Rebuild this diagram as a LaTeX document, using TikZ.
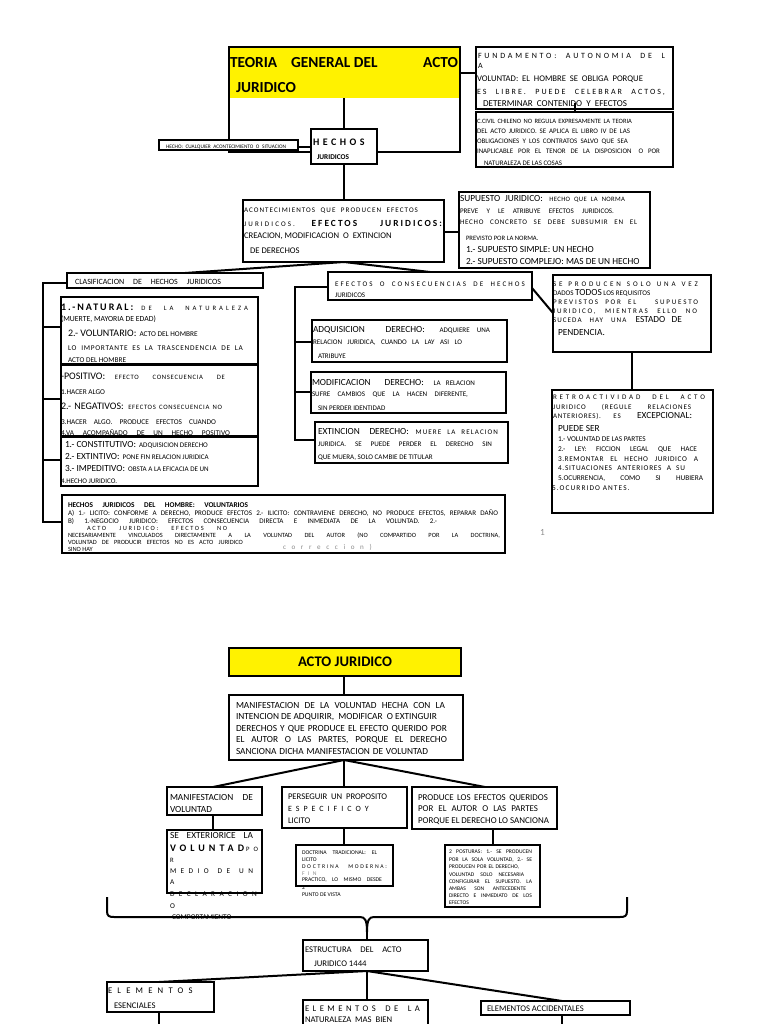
\documentclass[tikz,border=0pt]{standalone}
\usepackage{fontspec}
\setmainfont{Carlito}
\newdimen\pxu \pxu=0.75pt
\newcommand\J[2]{\makebox[#1\pxu][s]{#2}}
\newcommand\fz[1]{\fontsize{#1}{#1}\selectfont}
\newcommand\ls[1]{\addfontfeature{LetterSpace=#1}}
\newcommand\tl[3]{\node[tl] at (#1,#2) {#3};}
\newcommand\bx[5]{\node[box,minimum width={(#4-(#2))*0.75pt},minimum height={(#5-(#3))*0.75pt}] (#1) at (#2,#3) {};}
\begin{document}
\begin{tikzpicture}[x=0.75pt,y=-0.75pt,
  box/.style={draw=black,line width=0.8pt,fill=white,inner sep=0pt,outer sep=0pt,anchor=north west},
  conn/.style={draw=black,line width=1.5pt},
  tl/.style={anchor=base west,inner sep=0pt,outer sep=0pt,text=black},
  gtx/.style={tl,text=black!45}]
\useasboundingbox (0,0) rectangle (768,1024);
\fill[white] (0,0) rectangle (768,1024);

% ---------------- TOP HALF ----------------
\fill[yellow] (229,47) rectangle (460,98);
\node[box,fill=none,minimum width={231*0.75pt},minimum height={105*0.75pt}] (title) at (229,47) {};
\draw[conn] (344,98) -- (344,129);
\draw[conn] (460,73) -- (476,73);
\draw[conn] (298,147) -- (311,147);
\draw[conn] (344,164) -- (344,200);
\draw[conn] (444,232) -- (459,232);
\coordinate (j1) at (344,262);
\draw[conn] (j1) -- (185,273);
\draw[conn] (j1) -- (430,272);
% left bracket
\draw[conn] (67,283) -| (43,522) -- (62,522);
\draw[conn] (43,327) -- (61,327);
\draw[conn] (43,399) -- (61,399);
\draw[conn] (43,460) -- (61,460);
% middle bracket
\draw[conn] (328,287) -| (295,440) -- (315,440);
\draw[conn] (295,342) -- (312,342);
\draw[conn] (295,392) -- (311,392);
\draw[conn] (532,288) -- (553,313);
\draw[conn] (632,352) -- (632,390);

\bx{hechos}{311}{129}{377}{164}
\bx{hecho}{159}{140}{298}{150}
\bx{fund}{476}{47}{673}{109}
\bx{cc}{476}{112}{673}{167}
\draw[conn] (575,103) -- (575,112);
\bx{acont}{243}{200}{444}{262}
\bx{supuesto}{459}{192}{650}{268}
\bx{clasif}{67}{273}{263}{288}
\bx{efectos}{328}{272}{532}{300}
\bx{seprod}{553}{275}{711}{352}
\bx{natural}{61}{297}{258}{364}
\bx{positivo}{61}{365}{258}{436}
\bx{constit}{61}{437}{258}{486}
\bx{adq}{312}{320}{507}{362}
\bx{modif}{311}{372}{506}{413}
\bx{extin}{315}{422}{508}{463}
\bx{retro}{552}{390}{713}{513}
\bx{hombre}{62}{495}{505}{553}

% title texts
\tl{230}{68}{\fz{11.5}\bfseries\makebox[228\pxu][l]{TEORIA\hspace{14\pxu}GENERAL DEL\hfill ACTO}}
\tl{236}{93}{\fz{11.5}\bfseries JURIDICO}
\tl{313}{145}{\fz{7.5}\bfseries\ls{35}HECHOS}
\tl{317}{159}{\fz{5.5}\bfseries JURIDICOS}
\tl{166}{148.5}{\fz{4}\J{120}{HECHO: CUALQUIER ACONTECIMIENTO O SITUACION}}

% fundamento
\tl{478}{59}{\fz{6}\ls{35}\J{187}{FUNDAMENTO: AUTONOMIA DE L}}
\tl{478}{69}{\fz{6}A}
\tl{477}{82}{\fz{6.5}\J{166}{VOLUNTAD: EL HOMBRE SE OBLIGA PORQUE}}
\tl{477}{94}{\fz{6}\ls{25}\J{188}{ES LIBRE. PUEDE CELEBRAR ACTOS,}}
\tl{483}{107}{\fz{6.8}\J{144}{DETERMINAR CONTENIDO Y EFECTOS}}

% cc
\tl{477}{123}{\fz{4.9}\J{155}{C.CIVIL CHILENO NO REGULA EXPRESAMENTE LA TEORIA}}
\tl{477}{133}{\fz{5.2}\J{153}{DEL ACTO JURIDICO. SE APLICA EL LIBRO IV DE LAS}}
\tl{477}{143}{\fz{5.2}\J{151}{OBLIGACIONES Y LOS CONTRATOS SALVO QUE SEA}}
\tl{477}{153}{\fz{5.2}\J{183}{INAPLICABLE POR EL TENOR DE LA DISPOSICION\quad O POR}}
\tl{484}{165}{\fz{5.2}NATURALEZA DE LAS COSAS}

% acontecimientos
\tl{244}{212}{\fz{5.3}\ls{15}\J{174}{ACONTECIMIENTOS QUE PRODUCEN EFECTOS}}
\tl{244}{226}{\J{198}{{\fz{5.3}\ls{30}JURIDICOS.} {\fz{7}\bfseries\ls{22}EFECTOS JURIDICOS:}}}
\tl{244}{238}{\fz{6.5}CREACION, MODIFICACION\ \ O\ \ EXTINCION}
\tl{250}{253}{\fz{6.5}DE DERECHOS}

% supuesto
\tl{460}{201}{\J{165}{{\fz{7}SUPUESTO JURIDICO:} {\fz{5}\ls{5}HECHO QUE LA NORMA}}}
\tl{460}{213}{\fz{5.3}\J{154}{PREVE Y LE ATRIBUYE EFECTOS JURIDICOS.}}
\tl{460}{224}{\fz{5.3}\ls{10}\J{177}{HECHO CONCRETO SE DEBE SUBSUMIR EN EL}}
\tl{466}{240}{\fz{5}PREVISTO POR LA NORMA.}
\tl{466}{252}{\fz{7}1.- SUPUESTO SIMPLE: UN HECHO}
\tl{466}{264}{\fz{7}2.- SUPUESTO COMPLEJO: MAS DE UN HECHO}

% clasificacion
\tl{75}{284}{\fz{6}\J{146}{CLASIFICACION DE HECHOS JURIDICOS}}
\tl{61}{310}{\J{187}{{\fz{7.5}\bfseries\ls{20}1.-NATURAL:} {\fz{5}\ls{45}DE LA NATURALEZA}}}
\tl{61}{321}{\fz{5.8}(MUERTE, MAYORIA DE EDAD)}
\tl{68}{336}{{\fz{7.5}2.- VOLUNTARIO:} {\fz{5.5}ACTO DEL HOMBRE}}
\tl{68}{350}{\fz{5.5}\ls{10}\J{175}{LO IMPORTANTE ES LA TRASCENDENCIA DE LA}}
\tl{68}{362}{\fz{5.5}ACTO DEL HOMBRE}

\tl{61}{379}{\J{164}{{\fz{7.5}-POSITIVO:} {\fz{5}\ls{10}EFECTO\ \ CONSECUENCIA\ \ DE}}}
\tl{61}{394}{\fz{5.5}1.HACER ALGO}
\tl{61}{409}{\J{161}{{\fz{7.5}2.- NEGATIVOS:} {\fz{5}\ls{10}EFECTOS CONSECUENCIA NO}}}
\tl{61}{424}{\fz{5.5}\J{155}{3.HACER ALGO. PRODUCE EFECTOS CUANDO}}
\tl{61}{435.5}{\fz{5.5}\J{169}{4.VA ACOMPAÑADO DE UN HECHO POSITIVO}}

\tl{65}{447}{{\fz{7}1.- CONSTITUTIVO:} {\fz{5.3}ADQUISICION DERECHO}}
\tl{65}{459}{{\fz{7}2.- EXTINTIVO:} {\fz{5.3}PONE FIN RELACION JURIDICA}}
\tl{65}{471}{{\fz{7}3.- IMPEDITIVO:} {\fz{5.3}OBSTA A LA EFICACIA DE UN}}
\tl{61}{483}{\fz{5.3}4.HECHO JURIDICO.}

% hechos del hombre
\tl{68}{507}{\fz{5.5}\bfseries\J{180}{HECHOS JURIDICOS DEL HOMBRE: VOLUNTARIOS}}
\tl{68}{515}{\fz{5.3}\J{430}{A) 1.- LICITO: CONFORME A DERECHO, PRODUCE EFECTOS 2.- ILICITO: CONTRAVIENE DERECHO, NO PRODUCE EFECTOS, REPARAR DAÑO}}
\tl{68}{523}{\fz{5.3}\J{369}{B) 1.-NEGOCIO JURIDICO: EFECTOS CONSECUENCIA DIRECTA E INMEDIATA DE LA VOLUNTAD. 2.-}}
\tl{87}{530.5}{\fz{4.8}\ls{25}\J{140}{ACTO JURIDICO: EFECTOS NO}}
\tl{68}{537.5}{\fz{4.8}\J{432}{NECESARIAMENTE VINCULADOS DIRECTAMENTE A LA VOLUNTAD DEL AUTOR (NO COMPARTIDO POR LA DOCTRINA,}}
\tl{68}{544.5}{\fz{4.8}\J{175}{VOLUNTAD DE PRODUCIR EFECTOS NO ES ACTO JURIDICO}}
\tl{68}{551}{\fz{4.8}SINO HAY}
\node[gtx] at (283,549.5) {\fz{5.3}\ls{80}correccion)};
\node[gtx] at (540,535) {\fz{7}1};

% efectos column
\tl{335}{286}{\fz{5.3}\ls{30}\J{190}{EFECTOS O CONSECUENCIAS DE HECHOS}}
\tl{335}{297}{\fz{5.3}JURIDICOS}
\tl{313}{332}{\J{177}{{\fz{7}ADQUISICION\ \ DERECHO:} {\fz{5.3}ADQUIERE\quad UNA}}}
\tl{313}{344}{\fz{5.3}\J{149}{RELACION JURIDICA, CUANDO LA LAY ASI LO}}
\tl{318}{358}{\fz{5.3}ATRIBUYE}
\tl{312}{385}{\J{163}{{\fz{7}MODIFICACION\ \ DERECHO:} {\fz{5.3}LA RELACION}}}
\tl{312}{396}{\fz{5.3}\J{156}{SUFRE CAMBIOS QUE LA HACEN DIFERENTE,}}
\tl{318}{410}{\fz{5.3}SIN PERDER IDENTIDAD}
\tl{318}{434}{\J{180}{{\fz{7}EXTINCION\ \ DERECHO:} {\fz{5.3}\ls{15}MUERE LA RELACION}}}
\tl{318}{446}{\fz{5.3}\J{174}{JURIDICA. SE PUEDE PERDER EL DERECHO SIN}}
\tl{318}{459}{\fz{5.3}QUE MUERA, SOLO CAMBIE DE TITULAR}

% se producen
\tl{553}{286}{\fz{5.3}\ls{40}\J{145}{SE PRODUCEN SOLO UNA VEZ}}
\tl{553}{295}{{\fz{5.3}DADOS }{\fz{7}TODOS}{\fz{5.3} LOS REQUISITOS}}
\tl{553}{304}{\fz{5.3}\ls{25}\J{145}{PREVISTOS\quad POR\quad EL SUPUESTO}}
\tl{553}{313}{\fz{5.3}\ls{25}\J{144}{JURIDICO, MIENTRAS ELLO NO}}
\tl{553}{322}{\J{129}{{\fz{5.3}\ls{15}SUCEDA HAY UNA} {\fz{7}ESTADO DE}}}
\tl{558}{335}{\fz{7}PENDENCIA.}

% retro
\tl{553}{399}{\fz{5.3}\ls{40}\J{152}{RETROACTIVIDAD DEL ACTO}}
\tl{553}{409}{\fz{5.3}\ls{12}\J{138}{JURIDICO (REGULE RELACIONES}}
\tl{553}{418}{\J{139}{{\fz{5.3}\ls{10}ANTERIORES). ES} {\fz{7}EXCEPCIONAL:}}}
\tl{558}{431}{\fz{7}PUEDE SER}
\tl{558}{441}{\fz{5.5}1.- VOLUNTAD DE LAS PARTES}
\tl{558}{451}{\fz{5.5}\J{139}{2.- LEY: FICCION LEGAL QUE HACE}}
\tl{558}{461}{\fz{5.5}\ls{8}\J{140}{3.REMONTAR EL HECHO JURIDICO A}}
\tl{558}{470}{\fz{5.5}\ls{10}\J{127}{4.SITUACIONES ANTERIORES A SU}}
\tl{558}{480}{\fz{5.5}\J{145}{5.OCURRENCIA, COMO SI HUBIERA}}
\tl{552}{490}{\fz{5.5}\ls{15}5.OCURRIDO ANTES.}

% ---------------- BOTTOM HALF ----------------
\draw[conn] (344,676) -- (344,695);
\coordinate (j2) at (344,760);
\draw[conn] (j2) -- (213,787);
\draw[conn] (j2) -- (344,787);
\draw[conn] (j2) -- (485,787);
\draw[conn] (213,815) -- (213,830);
\draw[conn] (344,828) -- (344,845);
\draw[conn] (493,829) -- (493,845);
\coordinate (brtip) at (367,932);
\draw[conn] (107,897) -- (107,911) .. controls (107,916) and (109,917) .. (114,917) -- (360,917) .. controls (365,917) and (367,920) .. (brtip) .. controls (367,920) and (369,917) .. (374,917) -- (620,917) .. controls (625,917) and (627,916) .. (627,911) -- (627,897);
\draw[conn] (brtip) -- (367,940);
\coordinate (j3) at (367,971);
\draw[conn] (j3) -- (159,982);
\draw[conn] (j3) -- (367,1000);
\draw[conn] (j3) -- (562,1001);
\draw[conn] (159,1012) -- (159,1024);
\draw[conn] (562,1015) -- (562,1024);

\fill[yellow] (229,648) rectangle (461,676);
\node[box,fill=none,minimum width={232*0.75pt},minimum height={28*0.75pt}] (acto) at (229,648) {};
\node[inner sep=0pt] (actot) at (345,662) {\fz{11}\bfseries ACTO JURIDICO};
\bx{manif}{229}{695}{463}{760}
\bx{mdv}{167}{787}{262}{815}
\bx{pers}{282}{787}{407}{828}
\bx{prod}{412}{787}{557}{829}
\bx{seext}{167}{830}{262}{893}
\bx{doct}{296}{845}{393}{886}
\bx{post}{445}{845}{540}{907}
\bx{estr}{303}{940}{428}{971}
\bx{elem}{107}{982}{214}{1012}
\bx{elemnat}{303}{1000}{428}{1034}
\bx{acc}{481}{1001}{630}{1015}

\tl{236}{708}{\fz{7}\J{209}{MANIFESTACION DE LA VOLUNTAD HECHA CON LA}}
\tl{236}{719}{\fz{7}INTENCION DE ADQUIRIR,\ \ MODIFICAR\ \ O EXTINGUIR}
\tl{236}{731}{\fz{7}\J{211}{DERECHOS Y QUE PRODUCE EL EFECTO QUERIDO POR}}
\tl{236}{742}{\fz{7}\J{211}{EL AUTOR O LAS PARTES, PORQUE EL DERECHO}}
\tl{236}{754}{\fz{7}\J{192}{SANCIONA DICHA MANIFESTACION DE VOLUNTAD}}

\tl{170}{800}{\fz{7}\J{83}{MANIFESTACION\quad DE}}
\tl{170}{812}{\fz{7}VOLUNTAD}
\tl{170}{838}{\fz{7}\J{83}{SE EXTERIORICE LA}}
\tl{170}{851}{\J{85}{{\fz{7.5}\bfseries\ls{40}VOLUNTAD} {\fz{5}\ls{60}PO}}}
\tl{170}{862}{\fz{5}R}
\tl{170}{873}{\fz{5.5}\ls{60}\J{83}{MEDIO DE UN}}
\tl{170}{884}{\fz{5.5}A}
\tl{170}{896}{\fz{5.5}\ls{60}DECLARACION}
\tl{170}{908}{\fz{5.5}O}
\tl{172}{919}{\fz{5.5}COMPORTAMIENTO}

\tl{288}{799}{\fz{6.5}\J{99}{PERSEGUIR UN PROPOSITO}}
\tl{288}{811}{\fz{6}\ls{50}\J{74}{ESPECIFICO Y}}
\tl{288}{823}{\fz{6.5}LICITO}

\tl{418}{800}{\fz{6.7}\J{130}{PRODUCE LOS EFECTOS QUERIDOS}}
\tl{418}{811}{\fz{6.7}\J{120}{POR EL AUTOR O LAS PARTES}}
\tl{418}{823}{\fz{6.7}\J{131}{PORQUE EL DERECHO LO SANCIONA}}

\tl{302}{854}{\fz{4.3}\J{75}{DOCTRINA\quad TRADICIONAL: EL}}
\tl{302}{861}{\fz{4.3}LICITO}
\tl{302}{868}{\fz{4.3}\ls{30}\J{85}{DOCTRINA MODERNA:}}
\node[gtx] at (302,875) {\fz{4.3}\ls{60}FIN};
\tl{302}{881}{\fz{4.3}\J{80}{PRACTICO, LO MISMO DESDE}}
\tl{302}{889}{\fz{4.3}2}
\tl{302}{896}{\fz{4.3}PUNTO DE VISTA}

\tl{449}{853}{\fz{4.2}\J{83}{2 POSTURAS: 1.- SE PRODUCEN}}
\tl{449}{861}{\fz{4.2}\J{83}{POR LA SOLA VOLUNTAD, 2.- SE}}
\tl{449}{868}{\fz{4.2}\J{70}{PRODUCEN POR EL DERECHO,}}
\tl{449}{876}{\fz{4.2}\J{75}{VOLUNTAD SOLO NECESARIA}}
\tl{449}{883}{\fz{4.2}\J{83}{CONFIGURAR EL SUPUESTO. LA}}
\tl{449}{890}{\fz{4.2}\J{77}{AMBAS SON ANTECEDENTE}}
\tl{449}{897}{\fz{4.2}\J{83}{DIRECTO E INMEDIATO DE LOS}}
\tl{449}{904}{\fz{4.2}EFECTOS}

\tl{305}{952}{\fz{6.5}\J{80}{ESTRUCTURA\quad DEL\quad ACTO}}
\tl{314}{966}{\fz{6.5}JURIDICO 1444}
\tl{108}{993}{\fz{6.5}\ls{60}ELEMENTOS}
\tl{114}{1008}{\fz{6.5}ESENCIALES}
\tl{305}{1011}{\fz{6.5}\ls{40}\J{115}{ELEMENTOS DE LA}}
\tl{305}{1022}{\fz{6.5}NATURALEZA\ \ MAS\ \ BIEN}
\tl{487}{1011}{\fz{6.5}ELEMENTOS\ ACCIDENTALES}
\end{tikzpicture}
\end{document}
